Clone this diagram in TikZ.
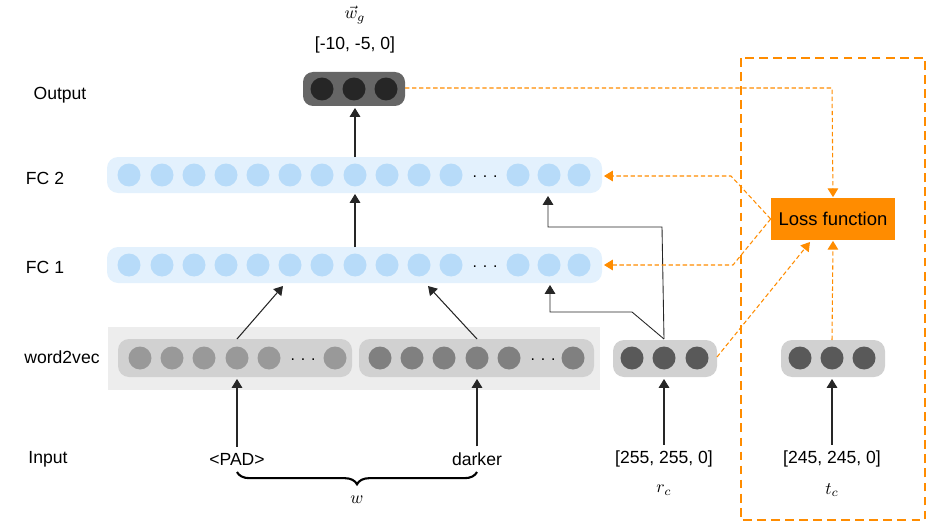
\documentclass[tikz,border=0pt]{standalone}
\usepackage{fontspec}
\setmainfont{Liberation Sans}
\usetikzlibrary{arrows.meta,decorations.pathreplacing}
\definecolor{lb}{HTML}{E3F1FD}
\definecolor{lc}{HTML}{B7DBF9}
\definecolor{orn}{HTML}{FF8C00}
\begin{document}
\begin{tikzpicture}[x=0.02cm,y=-0.02cm,
  lab/.style={font=\fontsize{10}{12}\selectfont},
  bar/.style={rounded corners=0.22cm,draw=none},
  cir/.style={circle,minimum size=0.46cm,inner sep=0,draw=none},
  blk/.style={-{Triangle[length=5pt,width=6pt]},black!85,line width=0.6pt},
  org/.style={-{Triangle[length=5pt,width=6pt]},orn,dashed,dash pattern=on 2.5pt off 1.5pt,line width=0.6pt}]
\useasboundingbox (0,0) rectangle (929,527);
% labels
\node[lab] (wg) at (355,15) {$\vec{w}_g$};
\node[lab] (wgv) at (355,45) {[-10, -5, 0]};
\node[lab] (lout) at (60,95) {Output};
\node[lab] (lfc2) at (45,178) {FC 2};
\node[lab] (lfc1) at (45,267) {FC 1};
\node[lab] (lw2v) at (62,357) {word2vec};
\node[lab] (lin) at (48,459) {Input};
% output
\fill[black!60,rounded corners=0.2cm] (303,72) rectangle (405,106);
\coordinate (outT) at (355,72); \coordinate (outB) at (355,106); \coordinate (outR) at (405,88);
\foreach \x in {322,354,386} \node[cir,fill=black!85] at (\x,89) {};
% FC bars
\foreach \y/\n in {175/fctwo,265/fcone}{
  \fill[lb,bar] (107,\y-18) rectangle (602,\y+18);
  \foreach \x in {129,162,194,226,258,290,322,355,387,419,451,518,549,579} \node[cir,fill=lc] at (\x,\y) {};
  \node[font=\small] at (485,\y+2) {. . .};
}
\coordinate (fc2T) at (355,157); \coordinate (fc2B) at (355,194); \coordinate (fc1T) at (355,247);
\coordinate (fc2R) at (604,176); \coordinate (fc1R) at (604,265);
% word2vec
\fill[black!7] (108,327) rectangle (600,390);
\fill[black!18,rounded corners=0.22cm] (118,339) rectangle (352,377);
\fill[black!18,rounded corners=0.22cm] (359,339) rectangle (594,377);
\foreach \x in {140,172,204,237,269,335} \node[cir,fill=black!40] at (\x,358) {};
\foreach \x in {380,412,444,477,509,573} \node[cir,fill=black!50] at (\x,358) {};
\node[font=\small] at (303,360) {. . .};
\node[font=\small] at (543,360) {. . .};
% rc, tc
\fill[black!18,rounded corners=0.22cm] (613,340) rectangle (717,377);
\foreach \x in {632,664,697} \node[cir,fill=black!65] at (\x,358) {};
\fill[black!18,rounded corners=0.22cm] (781,340) rectangle (885,377);
\foreach \x in {800,832,864} \node[cir,fill=black!65] at (\x,358) {};
% inputs
\node[lab] (pad) at (237,459) {<PAD>};
\node[lab] (dark) at (477,459) {darker};
\node[lab] (rcv) at (664,459) {[255, 255, 0]};
\node[lab] (tcv) at (832,459) {[245, 245, 0]};
\node[lab] (rc) at (664,490) {$r_c$};
\node[lab] (tc) at (832,490) {$t_c$};
\node[lab] (w) at (357,500) {$w$};
\draw[decorate,decoration={brace,mirror,amplitude=7pt},line width=1.2pt] (237,472) -- (477,472);
% loss
\node[fill=orn,minimum width=2.48cm,minimum height=0.86cm,inner sep=0,font=\fontsize{10.5}{12}\selectfont] (loss) at (833,219) {Loss function};
\draw[orn,line width=1.3pt,dash pattern=on 5pt off 3pt] (741,58) rectangle (925,520);
% black arrows
\draw[blk] (outT |- 0,157) -- (355,108);
\draw[blk] (fc1T) -- (fc2B);
\draw[blk] (237,339) -- (283,286);
\draw[blk] (477,339) -- (428,286);
\draw[blk] (pad.north) -- (237,379);
\draw[blk] (dark.north) -- (477,379);
\draw[blk] (rcv.north) -- (664,379);
\draw[blk] (tcv.north) -- (832,379);
\draw[blk,line width=0.5pt] (664,339) -- (662,227) -- (548,227) -- (548,196);
\draw[blk,line width=0.5pt] (664,339) -- (632,312) -- (550,312) -- (550,285);
% orange
\draw[org] (outR) -- (832,88) -- (loss.north);
\draw[org] (loss.west) -- (731,176) -- (fc2R);
\draw[org] (loss.west) -- (733,265) -- (fc1R);
\draw[org] (717,357) -- (810,242);
\draw[org] (832,340) -- (loss.south);
\end{tikzpicture}
\end{document}
